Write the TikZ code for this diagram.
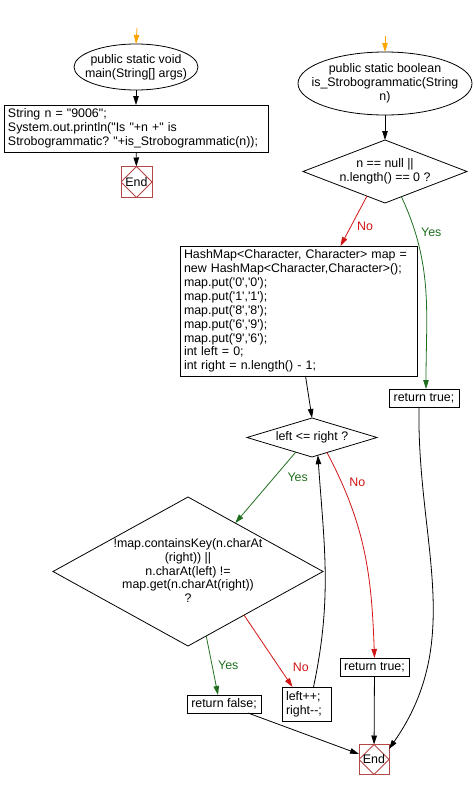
\documentclass[tikz,border=0pt]{standalone}
\usepackage{fontspec}
\newfontfamily\flowfont{Liberation Sans}
\usetikzlibrary{shapes.geometric, arrows.meta, calc}
\frenchspacing

\definecolor{yesgreen}{RGB}{30,110,30}
\definecolor{nored}{RGB}{210,20,20}
\definecolor{startorange}{RGB}{255,165,0}
\definecolor{endred}{RGB}{180,70,70}

\begin{document}
\begin{tikzpicture}[x=1pt, y=-1pt,
        every node/.style={font=\flowfont\fontsize{12.4}{13.9}\selectfont, inner sep=0pt, outer sep=0pt},
        >={Triangle[length=9pt, width=5.5pt]},
        line width=0.8pt,
        startnode/.style={shape=ellipse, draw=black},
        stepbox/.style={shape=rectangle, draw=black, align=left, inner xsep=4pt},
        smallbox/.style={shape=rectangle, draw=black, align=center},
        decision/.style={shape=diamond, draw=black},
        endnode/.style={shape=rectangle, draw=endred, minimum size=31pt,
            path picture={\draw[endred] (path picture bounding box.north) -- (path picture bounding box.east)
                -- (path picture bounding box.south) -- (path picture bounding box.west) -- cycle;}},
        yeslabel/.style={text=yesgreen},
        nolabel/.style={text=nored}
    ]
        \useasboundingbox (0,0) rectangle (474,790);

        % main
        \coordinate (mainIn) at (137,28);
        \node[startnode, minimum width=124pt, minimum height=46pt] (mainS) at (136,67) {};
        \node[align=center] (mainT) at (mainS) {public static void\\main(String[] args)};
        \node[stepbox, text width=256pt, minimum height=47pt] (printBox) at (136,128.5)
            {String n = "9006";\\System.out.println("Is "+n +" is\\Strobogrammatic? "+is\_Strobogrammatic(n));};
        \node[endnode] (end1) at (136.5,182) {End};

        \path [->, startorange] (mainIn) edge (mainS.north);
        \path [->] (mainS) edge (printBox);
        \path [->] (printBox) edge (end1);

        % is_Strobogrammatic
        \coordinate (isIn) at (385,36);
        \node[startnode, minimum width=174pt, minimum height=63pt] (isS) at (385,83.5) {};
        \node[align=center] (isT) at (isS) {public static boolean\\is\_Strobogrammatic(String\\n)};
        \node[decision, minimum width=164pt, minimum height=63pt] (nullD) at (385,171.5) {};
        \node[align=center] (nullT) at (nullD) {n == null ||\\n.length() == 0 ?};
        \node[stepbox, text width=229pt, minimum height=130pt] (mapBox) at (298.5,311)
            {HashMap<Character, Character> map =\\new HashMap<Character,Character>();\\map.put('0','0');\\map.put('1','1');\\map.put('8','8');\\map.put('6','9');\\map.put('9','6');\\int left = 0;\\int right = n.length() - 1;};
        \node[smallbox, minimum width=70pt, minimum height=18pt] (trueA) at (424,398) {return true;};

        \path [->, startorange] (isIn) edge (isS.north);
        \path [->] (isS) edge (nullD);
        \path [->, nored] ($(nullD.south)!0.22!(nullD.west)$) edge node[nolabel, right=6pt, pos=0.6] {No} ([xshift=42pt]mapBox.north);
        \path [->, yesgreen] ($(nullD.south)!0.2!(nullD.east)$) edge[out=-65, in=90] node[yeslabel, pos=0.18, right=6pt] {Yes} ([xshift=2pt]trueA.north);

        % loop
        \node[decision, minimum width=130pt, minimum height=39pt] (loopD) at (312,437.5) {};
        \node (loopT) at (loopD) {left <= right ?};
        \node[decision, minimum width=270pt, minimum height=149pt] (checkD) at (188,571.5) {};
        \node[align=center] (checkT) at ([yshift=1pt]checkD) {!map.containsKey(n.charAt\\(right)) ||\\n.charAt(left) !=\\map.get(n.charAt(right))\\?};
        \node[smallbox, minimum width=74pt, minimum height=18pt] (falseBox) at (224,704) {return false;};
        \node[stepbox, text width=41pt, minimum height=34pt] (stepBox) at (306.5,704) {left++;\\right--;};
        \node[smallbox, minimum width=69pt, minimum height=18pt] (trueB) at (374.5,667) {return true;};
        \node[endnode, minimum size=30pt] (end2) at (374,759.5) {End};

        \path [->] ([xshift=7pt]mapBox.south) edge (loopD.north);
        \path [->, yesgreen] ($(loopD.south)!0.25!(loopD.west)$) edge node[yeslabel, pos=0.35, right=13pt] {Yes} ($(checkD.north)!0.35!(checkD.east)$);
        \path [->, nored] ($(loopD.south)!0.23!(loopD.east)$) edge[out=-62, in=92] node[nolabel, pos=0.14, right=8pt] {No} (trueB.north);
        \path [->] ([xshift=7pt]stepBox.north) edge[out=78, in=-86] ($(loopD.south)!0.09!(loopD.east)$);
        \path [->, yesgreen] ($(checkD.south)!0.135!(checkD.east)$) edge node[yeslabel, right=6pt] {Yes} ([xshift=-6pt]falseBox.north);
        \path [->, nored] ($(checkD.south)!0.415!(checkD.east)$) edge node[nolabel, pos=0.72, right=14pt] {No} ([xshift=-14pt]stepBox.north);
        \path [->] ([xshift=24pt]falseBox.south) edge (end2.160);
        \path [->] (trueB) edge (end2);
        \path [->] ([xshift=-5pt]trueA.south) edge[out=-91, in=55] (end2.35);
    \end{tikzpicture}
\end{document}
